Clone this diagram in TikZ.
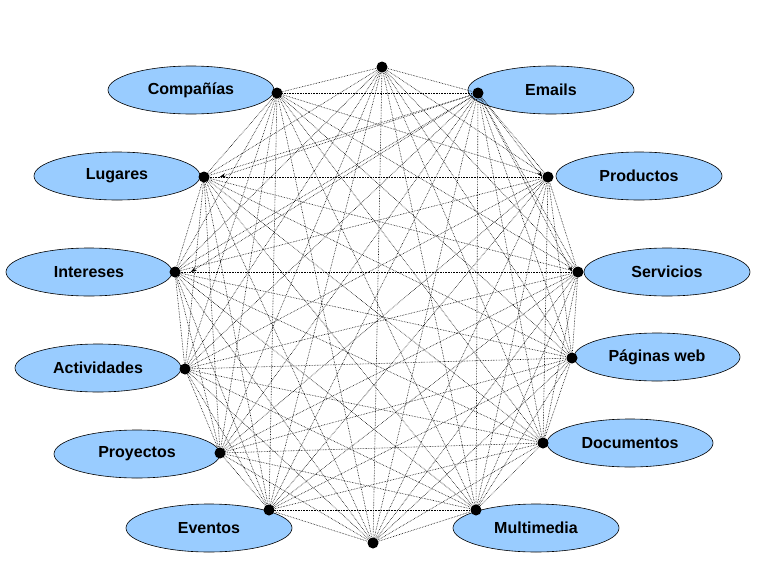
\documentclass[tikz,border=0pt]{standalone}
\usepackage{fontspec}
\setmainfont{Liberation Sans}
\usetikzlibrary{shapes.geometric,arrows.meta}
\definecolor{lb}{RGB}{153,204,255}
\begin{document}
\begin{tikzpicture}[x=1pt,y=-1pt,
  lab/.style={ellipse,draw=black,line width=0.6pt,fill=lb,minimum width=166pt,minimum height=48pt,inner sep=0pt,font=\bfseries\fontsize{16}{18}\selectfont},
  pt/.style={circle,fill=black,inner sep=0pt,minimum size=11pt},
  ed/.style={densely dotted,line width=0.6pt},
  ar/.style={-{Stealth[length=6pt,width=4pt]}}]
\useasboundingbox (0,0) rectangle (774,576);
\node[lab] (e1) at (191,90) {Compañías};
\node[lab] (e2) at (551,90) {Emails};
\node[lab] (e3) at (117,176) {Lugares};
\node[lab] (e4) at (639,176) {Productos};
\node[lab] (e5) at (89,272) {Intereses};
\node[lab] (e6) at (667,272) {Servicios};
\node[lab] (e7) at (98,368) {Actividades};
\node[lab] (e8) at (657,357) {Páginas web};
\node[lab] (e9) at (137,454) {Proyectos};
\node[lab] (e10) at (630,443) {Documentos};
\node[lab] (e11) at (209,528) {Eventos};
\node[lab] (e12) at (536,528) {Multimedia};
\foreach \n/\x/\y in {p0/382/67,p1/478/93,p2/548/177,p3/578/272,p4/572/358,p5/543/443,p6/476/510,p7/373/543,p8/269/510,p9/220/453,p10/185/369,p11/175/272,p12/204/177,p13/277/93}
  \node[pt] (\n) at (\x,\y) {};
\foreach \i in {0,...,13}{
  \foreach \j in {0,...,13}{
    \ifnum\i<\j \draw[ed] (p\i.center) -- (p\j.center); \fi
  }}
\draw[ed,ar] (p1.center) -- (p2.west);
\draw[ed,ar] (p1.center) -- (p3.west);
\draw[ed,ar] (p1.center) -- ([xshift=10pt]p12.east);
\draw[ed,ar] (p1.center) -- ([xshift=10pt]p11.east);
\end{tikzpicture}
\end{document}
